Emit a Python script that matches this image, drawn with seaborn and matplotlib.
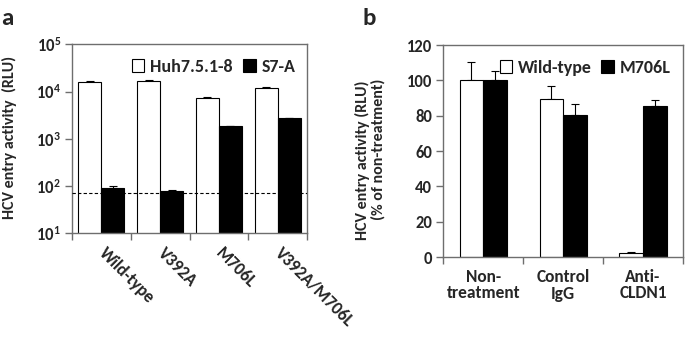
import matplotlib
matplotlib.use("Agg")
import matplotlib.pyplot as plt
import seaborn as sns
import pandas as pd
import numpy as np
from matplotlib.patches import Patch

# ---------------- data ----------------
cats_a = ["Wild-type", "V392A", "M706L", "V392A/M706L"]
cells_a = ["Huh7.5.1-8", "S7-A"]
huh_vals = [15800, 17100, 7400, 11800]
huh_err = [700, 500, 250, 400]
s7a_vals = [92, 78, 1850, 2750]
s7a_err = [6, 4, 40, 60]
threshold_a = 72
yticks_a = [10, 100, 1000, 10000, 100000]
yticklabels_a = [r"$\mathregular{10^{1}}$", r"$\mathregular{10^{2}}$", r"$\mathregular{10^{3}}$",
                 r"$\mathregular{10^{4}}$", r"$\mathregular{10^{5}}$"]

cats_b = ["Non-\ntreatment", "Control\nIgG", "Anti-\nCLDN1"]
virus_b = ["Wild-type", "M706L"]
wt_vals = [100, 89.5, 2.2]
wt_err = [10.3, 7.3, 0.4]
m706_vals = [100, 80.2, 85.5]
m706_err = [5.5, 6.3, 3.4]
yticks_b = [0, 20, 40, 60, 80, 100, 120]

# ---------------- style ----------------
sns.set_style("ticks")
plt.rcParams["font.family"] = ["Carlito", "DejaVu Sans"]
plt.rcParams["font.weight"] = "bold"
plt.rcParams["mathtext.fontset"] = "custom"
plt.rcParams["mathtext.rm"] = "Carlito:bold"
plt.rcParams["mathtext.bf"] = "Carlito:bold"
plt.rcParams["mathtext.it"] = "Carlito:bold"

SPINE = "#6e6e6e"
palette_a = {cells_a[0]: "white", cells_a[1]: "black"}
palette_b = {virus_b[0]: "white", virus_b[1]: "black"}

fig = plt.figure(figsize=(6.85, 3.42), dpi=100)
W, H = 685, 342
ax_a = fig.add_axes([72 / W, 1 - 233.3 / H, (307 - 72) / W, (233.3 - 44.3) / H])
ax_b = fig.add_axes([443.3 / W, 1 - 257 / H, (683 - 443.3) / W, (257 - 45) / H])

def style_axes(ax):
    for s in ax.spines.values():
        s.set_visible(True)
        s.set_color(SPINE)
        s.set_linewidth(1.0)
    ax.tick_params(axis="y", direction="out", length=5, color=SPINE, width=1.0,
                   labelsize=12, pad=3)

def add_errs(ax, vals_list, errs_list):
    for cont, vals, errs in zip(ax.containers, vals_list, errs_list):
        xs = [p.get_x() + p.get_width() / 2 for p in cont.patches]
        ax.errorbar(xs, vals, yerr=[np.zeros(len(errs)), errs], fmt="none",
                    ecolor="black", elinewidth=0.8, capsize=3, capthick=0.8, zorder=1)

# ---------------- panel a ----------------
df_a = pd.DataFrame({
    "cat": cats_a * 2,
    "cell": [cells_a[0]] * 4 + [cells_a[1]] * 4,
    "val": huh_vals + s7a_vals,
})
sns.barplot(data=df_a, x="cat", y="val", hue="cell", palette=palette_a, ax=ax_a,
            width=0.78, edgecolor="black", linewidth=0.8, errorbar=None,
            legend=False, saturation=1, zorder=2)
ax_a.set_yscale("log", nonpositive="clip")
add_errs(ax_a, [huh_vals, s7a_vals], [huh_err, s7a_err])
ax_a.axhline(threshold_a, color="black", lw=0.8, ls=(0, (3, 2)), zorder=3)
ax_a.set_ylim(10, 100000)
ax_a.set_xlim(-0.5, len(cats_a) - 0.5)
ax_a.yaxis.set_major_locator(matplotlib.ticker.FixedLocator(yticks_a))
ax_a.yaxis.set_minor_locator(matplotlib.ticker.NullLocator())
ax_a.set_yticklabels(yticklabels_a)
style_axes(ax_a)
ax_a.set_xticks(range(len(cats_a)))
ax_a.set_xticklabels(cats_a, rotation=-45, ha="left", va="center",
                     rotation_mode="anchor", fontsize=12.5)
ax_a.tick_params(axis="x", which="major", length=0, pad=12)
ax_a.set_xticks(np.arange(-0.5, len(cats_a)), minor=True)
ax_a.tick_params(axis="x", which="minor", direction="out", length=5, color=SPINE, width=1.0)
ax_a.set_xlabel("")
ax_a.set_ylabel("")
handles_a = [Patch(facecolor=palette_a[c], edgecolor="black", linewidth=0.8) for c in cells_a]
ax_a.legend(handles_a, cells_a, loc="upper left", bbox_to_anchor=(0.2, 0.99), ncol=2,
            frameon=False, fontsize=13, handlelength=0.7, handleheight=0.7,
            handletextpad=0.3, columnspacing=0.6, borderaxespad=0.3)

# ---------------- panel b ----------------
df_b = pd.DataFrame({
    "cat": cats_b * 2,
    "virus": [virus_b[0]] * 3 + [virus_b[1]] * 3,
    "val": wt_vals + m706_vals,
})
sns.barplot(data=df_b, x="cat", y="val", hue="virus", palette=palette_b, ax=ax_b,
            width=0.59, edgecolor="black", linewidth=0.8, errorbar=None,
            legend=False, saturation=1, zorder=2)
add_errs(ax_b, [wt_vals, m706_vals], [wt_err, m706_err])
ax_b.set_ylim(0, 120)
ax_b.set_xlim(-0.5, len(cats_b) - 0.5)
ax_b.set_yticks(yticks_b)
style_axes(ax_b)
ax_b.set_xticks(range(len(cats_b)))
ax_b.set_xticklabels(cats_b, fontsize=12.5, linespacing=1.0)
ax_b.tick_params(axis="x", which="major", length=0, pad=9)
ax_b.set_xticks(np.arange(-0.5, len(cats_b)), minor=True)
ax_b.tick_params(axis="x", which="minor", direction="out", length=5, color=SPINE, width=1.0)
ax_b.set_xlabel("")
ax_b.set_ylabel("")
handles_b = [Patch(facecolor=palette_b[c], edgecolor="black", linewidth=0.8) for c in virus_b]
ax_b.legend(handles_b, virus_b, loc="upper right", bbox_to_anchor=(1.0, 0.99), ncol=2,
            frameon=False, fontsize=13, handlelength=0.7, handleheight=0.7,
            handletextpad=0.3, columnspacing=0.55, borderaxespad=0.3)

# ---------------- labels ----------------
fig.text(9 / W, 1 - 137 / H, "HCV entry activity  (RLU)", rotation=90,
         ha="center", va="center", fontsize=11.5, fontweight="bold")
fig.text(362 / W, 1 - 160 / H, "HCV entry activity (RLU)", rotation=90,
         ha="center", va="center", fontsize=11.5, fontweight="bold")
fig.text(378 / W, 1 - 149 / H, "(% of non-treatment)", rotation=90,
         ha="center", va="center", fontsize=11.5, fontweight="bold")
fig.text(1 / W, 1 - 25 / H, "a", ha="left", va="baseline", fontsize=18, fontweight="bold")
fig.text(362 / W, 1 - 25 / H, "b", ha="left", va="baseline", fontsize=18, fontweight="bold")

fig.savefig("out.png", dpi=100)
